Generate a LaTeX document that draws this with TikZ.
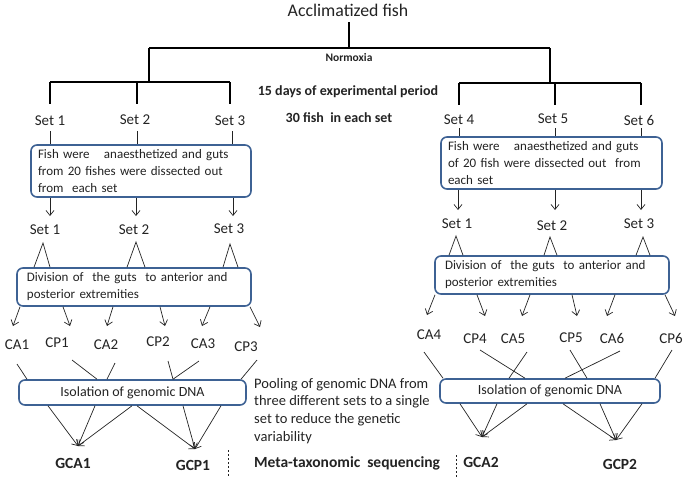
\documentclass[tikz,border=0pt]{standalone}
\usepackage{fontspec}
\setmainfont{Carlito}
\usetikzlibrary{arrows.meta}
\definecolor{boxblue}{RGB}{62,98,148}
\definecolor{ink}{RGB}{35,35,35}
\begin{document}
\begin{tikzpicture}[x=1pt,y=-1pt,
  lbl/.style={inner sep=0pt, font=\fontsize{15}{17}\selectfont, text=ink},
  bld/.style={inner sep=0pt, font=\bfseries\fontsize{14}{16}\selectfont, text=ink},
  gbl/.style={inner sep=0pt, font=\bfseries\fontsize{15.5}{17}\selectfont, text=ink},
  box/.style={draw=boxblue, line width=1.6pt, rounded corners=6pt, fill=white,
    font=\fontsize{13}{17}\selectfont, text=ink, inner ysep=1pt},
  tree/.style={line width=2.2pt, draw=black},
  thin/.style={line width=0.7pt, draw=ink},
  arr/.style={thin, -{Straight Barb[length=5pt,width=8pt]}},
  dsh/.style={line width=0.7pt, draw=ink, dash pattern=on 2pt off 2pt},
]
\useasboundingbox (0,0) rectangle (685,477);

% ---------- top tree ----------
\node[inner sep=0pt, font=\fontsize{17.8}{19}\selectfont, text=ink] (acc) at (348,10) {Acclimatized fish};
\coordinate (top) at (349,48);
\coordinate (jl) at (149,48);
\coordinate (jr) at (550,48);
\coordinate (hl) at (149,82);
\coordinate (hr) at (550,83);
\draw[tree] (349,22) -- (top);
\draw[tree] (jl) -- (jr);
\draw[tree] (jl) -- (hl);
\draw[tree] (jr) -- (hr);
\draw[tree] (50,82) -- (230,82);
\draw[tree] (50,82) -- (50,104);
\draw[tree] (137,82) -- (137,104);
\draw[tree] (230,82) -- (230,104);
\draw[tree] (459,83) -- (641,83);
\draw[tree] (459,83) -- (459,105);
\draw[tree] (555,83) -- (555,105);
\draw[tree] (641,83) -- (641,105);

\node[inner sep=0pt, font=\bfseries\fontsize{11.5}{13}\selectfont, text=ink] (norm) at (349,58) {Normoxia};
\node[bld] (days) at (348,92) {15 days of experimental period};
\node[bld] (thirty) at (339,118) {30 fish\ \ in each set};

% set labels
\node[lbl] (s1) at (50,121) {Set 1};
\node[lbl] (s2) at (135,120) {Set 2};
\node[lbl] (s3) at (230,121) {Set 3};
\node[lbl] (s4) at (459,120) {Set 4};
\node[lbl] (s5) at (553,119) {Set 5};
\node[lbl] (s6) at (639,120) {Set 6};

% ---------- boxes first row ----------
\node[box, minimum width=220pt, minimum height=52pt, text width=206pt, inner xsep=7pt, align=left] (bA) at (141,171)
  {Fish were\hspace{1.1em}anaesthetized and guts\\from 20 fishes were dissected out\\from\ \ each set};
\node[box, minimum width=221pt, minimum height=52pt, text width=207pt, inner xsep=7pt, align=left] (bB) at (551.5,163)
  {Fish were\hspace{1.1em}anaesthetized and guts\\of 20 fish were dissected out\ \ from\\each set};

\draw[thin] (50,131) -- (50,0 |- bA.north);
\draw[thin] (137,131) -- (137,0 |- bA.north);
\draw[thin] (232,131) -- (232,0 |- bA.north);
\draw[thin] (459,128) -- (459,0 |- bB.north);
\draw[thin] (555,128) -- (555,0 |- bB.north);
\draw[thin] (641,128) -- (641,0 |- bB.north);

\node[lbl] (t1) at (45,230) {Set 1};
\node[lbl] (t2) at (134,230) {Set 2};
\node[lbl] (t3) at (229,229) {Set 3};
\node[lbl] (u1) at (457,224) {Set 1};
\node[lbl] (u2) at (552,226) {Set 2};
\node[lbl] (u3) at (639,224) {Set 3};

\draw[arr] (50,0 |- bA.south) -- (50,216);
\draw[arr] (136,0 |- bA.south) -- (136,216);
\draw[arr] (233,0 |- bA.south) -- (233,216);
\draw[arr] (458,0 |- bB.south) -- (458,210);
\draw[arr] (555,0 |- bB.south) -- (555,210);
\draw[arr] (641,0 |- bB.south) -- (641,210);

% ---------- division boxes ----------
\node[box, minimum width=234pt, minimum height=38pt, text width=214pt, inner xsep=10pt, align=left] (bC) at (134,287)
  {Division of\ \ the guts\ \ to anterior and\\posterior extremities};
\node[box, minimum width=234pt, minimum height=38pt, text width=214pt, inner xsep=10pt, align=left] (bD) at (552,275)
  {Division of\ \ the guts\ \ to anterior and\\posterior extremities};

% triangles
\coordinate (a1) at (43,243);  \coordinate (a2) at (136,242); \coordinate (a3) at (230,244);
\coordinate (a4) at (456,236); \coordinate (a5) at (550,237); \coordinate (a6) at (643,237);
\draw[thin] (34,0 |- bC.north) -- (a1) -- (50,0 |- bC.north);
\draw[thin] (127,0 |- bC.north) -- (a2) -- (145,0 |- bC.north);
\draw[thin] (223,0 |- bC.north) -- (a3) -- (238,0 |- bC.north);
\draw[thin] (449,0 |- bD.north) -- (a4) -- (463,0 |- bD.north);
\draw[thin] (544,0 |- bD.north) -- (a5) -- (557,0 |- bD.north);
\draw[thin] (636,0 |- bD.north) -- (a6) -- (650,0 |- bD.north);

% ---------- CA / CP labels ----------
\node[lbl] (ca1) at (17,345) {CA1};
\node[lbl] (cp1) at (57,343) {CP1};
\node[lbl] (ca2) at (106,345) {CA2};
\node[lbl] (cp2) at (158,342) {CP2};
\node[lbl] (ca3) at (203,344) {CA3};
\node[lbl] (cp3) at (246,347) {CP3};
\node[lbl] (ca4) at (429,335) {CA4};
\node[lbl] (cp4) at (475,339) {CP4};
\node[lbl] (ca5) at (513,339) {CA5};
\node[lbl] (cp5) at (571,338) {CP5};
\node[lbl] (ca6) at (612,338) {CA6};
\node[lbl] (cp6) at (671,338) {CP6};

\draw[arr] (20,0 |- bC.south) -- (13,326);
\draw[arr] (63,0 |- bC.south) -- (70,326);
\draw[arr] (113,0 |- bC.south) -- (107,326);
\draw[arr] (160,0 |- bC.south) -- (165,326);
\draw[arr] (210,0 |- bC.south) -- (202,326);
\draw[arr] (250,0 |- bC.south) -- (260,327);
\draw[arr] (435,0 |- bD.south) -- (427,315);
\draw[arr] (477,0 |- bD.south) -- (485,316);
\draw[arr] (530,0 |- bD.south) -- (522,316);
\draw[arr] (572,0 |- bD.south) -- (577,316);
\draw[arr] (615,0 |- bD.south) -- (607,316);
\draw[arr] (665,0 |- bD.south) -- (675,316);

% ---------- isolation boxes ----------
\node[box, font=\fontsize{14}{16}\selectfont, minimum width=227pt, minimum height=25pt, align=center] (bE) at (132.5,392.5) {Isolation of genomic DNA};
\node[box, font=\fontsize{14}{16}\selectfont, minimum width=220pt, minimum height=24pt, align=center] (bF) at (550,391) {Isolation of genomic DNA};

\draw[thin] (17,364) -- (27,0 |- bE.north);
\draw[thin] (72,360) -- (97,0 |- bE.north);
\draw[thin] (115,363) -- (107,0 |- bE.north);
\draw[thin] (168,361) -- (173,0 |- bE.north);
\draw[thin] (199,361) -- (173,0 |- bE.north);
\draw[thin] (257,360) -- (241,0 |- bE.north);
\draw[thin] (424,352) -- (443,0 |- bF.north);
\draw[thin] (480,350) -- (525,0 |- bF.north);
\draw[thin] (527,352) -- (509,0 |- bF.north);
\draw[thin] (570,350) -- (587,0 |- bF.north);
\draw[thin] (620,351) -- (565,0 |- bF.north);
\draw[thin] (672,350) -- (655,0 |- bF.north);

% convergence points
\coordinate (g1) at (78,446);
\coordinate (g2) at (195,449);
\coordinate (g3) at (482,437);
\coordinate (g4) at (616,440);
\draw[arr] (48,0 |- bE.south) -- (g1);
\draw[arr] (95,0 |- bE.south) -- (g1);
\draw[arr] (132,0 |- bE.south) -- (g1);
\draw[arr] (137,0 |- bE.south) -- (g2);
\draw[arr] (183,0 |- bE.south) -- (g2);
\draw[arr] (221,0 |- bE.south) -- (g2);
\draw[arr] (460,0 |- bF.south) -- (g3);
\draw[arr] (497,0 |- bF.south) -- (g3);
\draw[arr] (527,0 |- bF.south) -- (g3);
\draw[arr] (563,0 |- bF.south) -- (g4);
\draw[arr] (600,0 |- bF.south) -- (g4);
\draw[arr] (642,0 |- bF.south) -- (g4);

% pooling text
\node[inner sep=0pt, anchor=north west, align=left, text=ink, font=\fontsize{14.5}{17.7}\selectfont] (pool) at (254,378)
  {Pooling of genomic DNA from\\three different sets to a single\\set to reduce the genetic\\variability};

% bottom labels
\node[gbl] (gca1) at (73,463) {GCA1};
\node[gbl] (gcp1) at (193,465) {GCP1};
\node[gbl] (meta) at (347,463) {Meta-taxonomic\ \ sequencing};
\node[gbl] (gca2) at (481,462) {GCA2};
\node[gbl] (gcp2) at (620,464) {GCP2};
\coordinate (d1t) at (228,450); \coordinate (d1b) at (228,477);
\coordinate (d2t) at (456,455); \coordinate (d2b) at (456,477);
\draw[dsh] (d1t) -- (d1b);
\draw[dsh] (d2t) -- (d2b);
\end{tikzpicture}
\end{document}
